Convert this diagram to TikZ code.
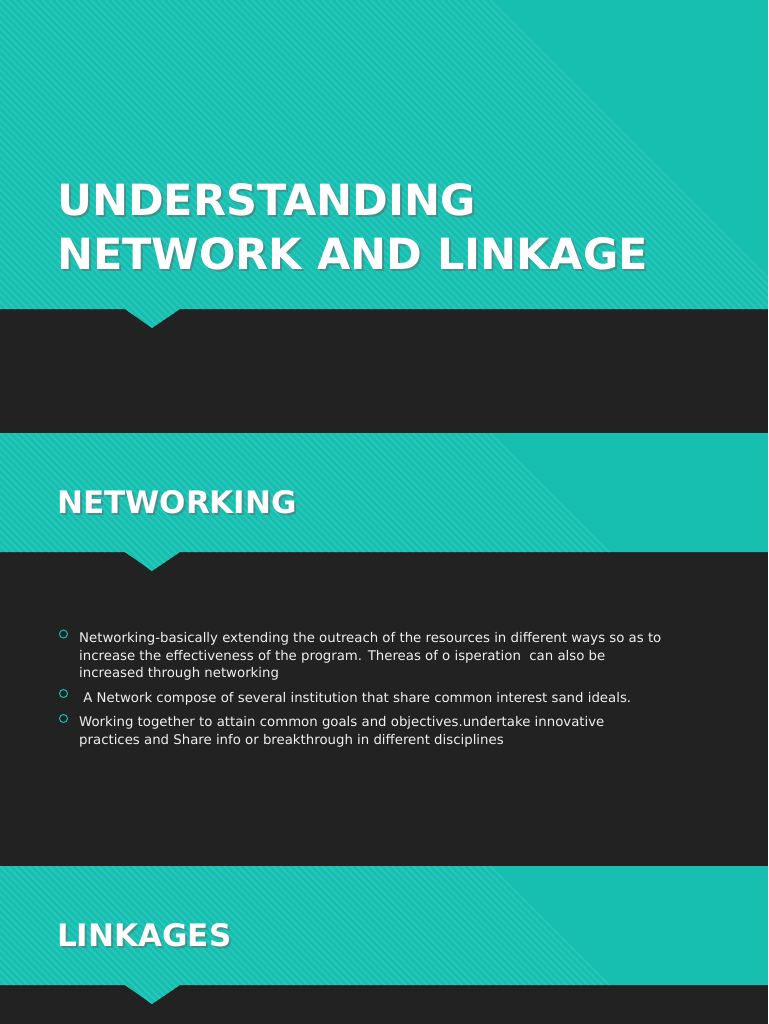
\documentclass[tikz,border=0pt]{standalone}
\usepackage{fontspec}
\setmainfont{DejaVu Sans}
\definecolor{teal1}{HTML}{17BFB0}
\definecolor{teal2}{HTML}{2DCABC}
\definecolor{dark}{HTML}{222222}
\definecolor{bodytxt}{HTML}{F0F0F0}
\begin{document}
\begin{tikzpicture}[x=1pt,y=-1pt,
  band/.style={fill=teal1},
  title/.style={anchor=base west,text=white,font=\bfseries\fontsize{43}{52}\selectfont,inner sep=0},
  head/.style={anchor=base west,text=white,font=\bfseries\fontsize{31}{36}\selectfont,inner sep=0},
  shadow/.style={text=black!60,opacity=0.5},
  line/.style={anchor=base west,text=bodytxt,font=\fontsize{13.3}{17}\selectfont,inner sep=0},
  bul/.style={draw=teal1,line width=1pt,circle,minimum size=8pt,inner sep=0}]
\useasboundingbox (0,0) rectangle (768,1024);
\fill[dark] (0,0) rectangle (768,1024);
% bands
\foreach \t/\b in {0/309,433/552,866/985}{
  \begin{scope}
    \clip (0,\t) -- (768,\t) -- (768,\b) -- (180,\b) -- (152,\b+19) -- (125,\b) -- (0,\b) -- cycle;
    \fill[teal1] (0,\t) rectangle (768,\b+20);
    \foreach \k in {-60,...,70}{
      \draw[teal2,line width=1.2pt] (\k*7+\t*0,\t) -- ++(\b-\t+20,\b-\t+20);
    }
  \end{scope}
}
% title
\node[title,shadow] (t1s) at (59,218) {UNDERSTANDING};
\node[title,shadow] (t2s) at (59,271) {NETWORK AND LINKAGE};
\node[title] (t1) at (57,216) {UNDERSTANDING};
\node[title] (t2) at (57,269) {NETWORK AND LINKAGE};
\node[head,shadow] (h1s) at (59,515) {NETWORKING};
\node[head] (h1) at (57,513) {NETWORKING};
\node[head,shadow] (h2s) at (59,948) {LINKAGES};
\node[head] (h2) at (57,946) {LINKAGES};
% bullets
\node[bul] (b1) at (63.5,634) {};
\node[bul] (b2) at (63.5,693.5) {};
\node[bul] (b3) at (63.5,718.5) {};
\node[line] (l1) at (79,642) {Networking-basically extending the outreach of the resources in different ways so as to};
\node[line] (l2) at (79,660) {increase the effectiveness of the program. Thereas of o isperation\ \ can also be};
\node[line] (l3) at (79,677) {increased through networking};
\node[line] (l4) at (79,702) {\ A Network compose of several institution that share common interest sand ideals.};
\node[line] (l5) at (79,726) {Working together to attain common goals and objectives.undertake innovative};
\node[line] (l6) at (79,744) {practices and Share info or breakthrough in different disciplines};
\end{tikzpicture}
\end{document}
